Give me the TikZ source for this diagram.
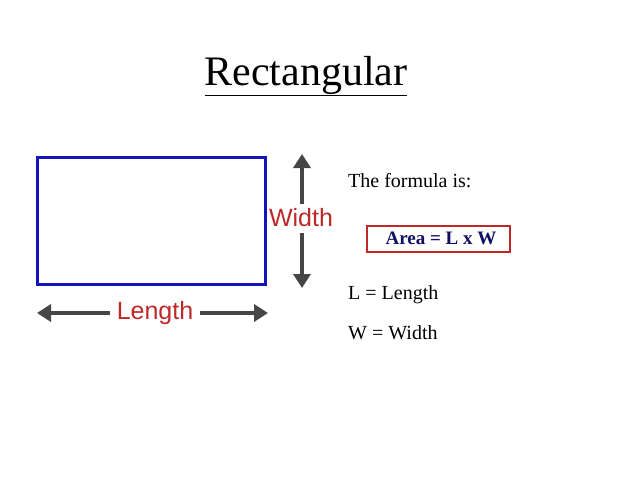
\documentclass[tikz,border=0pt]{standalone}
\usepackage{fontspec}
\setmainfont{Liberation Serif}
\newfontfamily\arialf{Liberation Sans}
\usetikzlibrary{arrows.meta}
\definecolor{rblue}{RGB}{20,20,190}
\definecolor{lred}{RGB}{190,40,40}
\definecolor{agray}{RGB}{70,70,70}
\definecolor{navy}{RGB}{15,15,100}
\begin{document}
\begin{tikzpicture}[x=1pt,y=-1pt,
  arr/.style={draw=agray,line width=3.5pt,-{Triangle[length=14pt,width=17pt]}},
  lbl/.style={text=lred,font=\arialf\fontsize{25}{28}\selectfont,inner sep=1pt},
  txt/.style={anchor=west,font=\fontsize{20}{23}\selectfont,inner sep=0pt}]
\useasboundingbox (0,0) rectangle (638,479);
\node (title) at (306,76) {\fontsize{42}{48}\selectfont\underline{Rectangular}};
\draw[rblue,line width=3pt] (37,157) rectangle (265,284);
\node[lbl] (w) at (301,218) {Width};
\coordinate (wt) at (302,154);
\coordinate (wb) at (302,288);
\coordinate (wt0) at (302,204);
\coordinate (wb0) at (302,233);
\draw[arr] (wt0) -- (wt);
\draw[arr] (wb0) -- (wb);
\node[lbl] (l) at (155,313) {Length};
\coordinate (ll) at (37,313);
\coordinate (lr) at (268,313);
\coordinate (ll0) at (110,313);
\coordinate (lr0) at (200,313);
\draw[arr] (ll0) -- (ll);
\draw[arr] (lr0) -- (lr);
\node[txt] (f) at (348,181) {The formula is:};
\node[draw=lred,line width=1.5pt,minimum width=143pt,minimum height=26pt,inner sep=0pt] (box) at (438.5,239) {};
\node[text=navy,font=\bfseries\fontsize{19}{22}\selectfont] (a) at (441,238) {Area = L x W};
\node[txt] (lL) at (348,295) {L = Length};
\node[txt] (wW) at (348,333) {W = Width};
\end{tikzpicture}
\end{document}
